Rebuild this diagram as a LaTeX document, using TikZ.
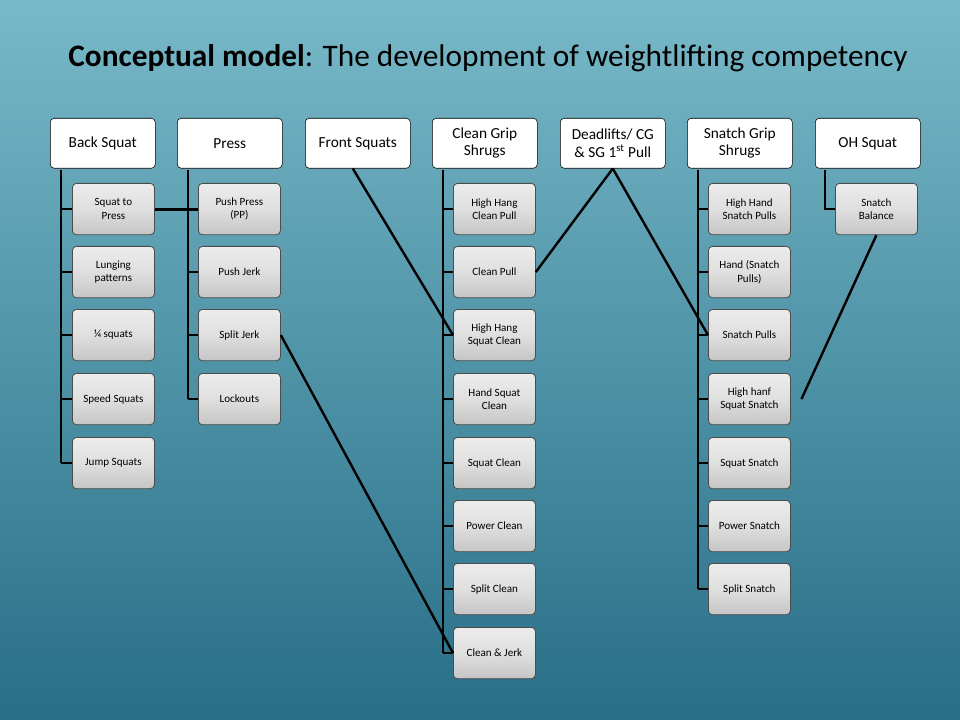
\documentclass[tikz,border=0pt]{standalone}
\usepackage{fontspec}
\setmainfont{Carlito}
\definecolor{bgtop}{RGB}{120,185,200}
\definecolor{bgbot}{RGB}{40,110,135}
\begin{document}
\begin{tikzpicture}[x=0.75pt,y=-0.75pt,
  top/.style={draw=black,fill=white,rounded corners=3pt,minimum width=78.75pt,minimum height=37.5pt,align=center,font=\fontsize{11.5}{13}\selectfont,anchor=north west,inner sep=1pt},
  sub/.style={draw=black!70,line width=0.6pt,top color=gray!15,bottom color=gray!45,middle color=gray!25,rounded corners=3pt,minimum width=61.5pt,minimum height=38.5pt,align=center,font=\fontsize{8.3}{10}\selectfont,anchor=north west,inner sep=1pt},
  tree/.style={line width=2.2pt,black},
  link/.style={line width=1.8pt,black}]
\useasboundingbox (0,0) rectangle (960,720);
\shade[top color=bgtop,bottom color=bgbot] (0,0) rectangle (960,720);
\node[font=\fontsize{23.5}{28}\selectfont,anchor=center] (title) at (488,58) {\textbf{Conceptual model}: The development of weightlifting competency};
% top boxes
\node[top] (bs) at (50,118) {Back Squat};
\node[top] (pr) at (177,118) {Press};
\node[top] (fs) at (305,118) {Front Squats};
\node[top] (cg) at (432,118) {Clean Grip\\Shrugs};
\node[top] (dl) at (560,118) {Deadlifts/ CG\\\& SG 1\textsuperscript{st} Pull};
\node[top] (sg) at (687,118) {Snatch Grip\\Shrugs};
\node[top] (oh) at (815,118) {OH Squat};
% tree lines
\draw[tree] (61,170) -- (61,463);
\foreach \y in {209,272,335,399,463} \draw[tree] (61,\y) -- (72,\y);
\draw[tree] (188,170) -- (188,399);
\foreach \y in {209,272,335,399} \draw[tree] (188,\y) -- (198,\y);
\draw[tree] (443,170) -- (443,653);
\foreach \y in {209,272,335,399,463,526,589,653} \draw[tree] (443,\y) -- (453,\y);
\draw[tree] (698,170) -- (698,589);
\foreach \y in {209,272,335,399,463,526,589} \draw[tree] (698,\y) -- (708,\y);
\draw[tree] (825,170) -- (825,209) -- (835,209);
% sub boxes
\node[sub] (b1) at (72,183) {Squat to\\Press};
\node[sub] (b2) at (72,246) {Lunging\\patterns};
\node[sub] (b3) at (72,309) {¼ squats};
\node[sub] (b4) at (72,373) {Speed Squats};
\node[sub] (b5) at (72,437) {Jump Squats};
\node[sub] (p1) at (198,183) {Push Press\\(PP)};
\node[sub] (p2) at (198,246) {Push Jerk};
\node[sub] (p3) at (198,309) {Split Jerk};
\node[sub] (p4) at (198,373) {Lockouts};
\node[sub] (c1) at (453,183) {High Hang\\Clean Pull};
\node[sub] (c2) at (453,246) {Clean Pull};
\node[sub] (c3) at (453,309) {High Hang\\Squat Clean};
\node[sub] (c4) at (453,373) {Hand Squat\\Clean};
\node[sub] (c5) at (453,437) {Squat Clean};
\node[sub] (c6) at (453,500) {Power Clean};
\node[sub] (c7) at (453,563) {Split Clean};
\node[sub] (c8) at (453,627) {Clean \& Jerk};
\node[sub] (s1) at (708,183) {High Hand\\Snatch Pulls};
\node[sub] (s2) at (708,246) {Hand (Snatch\\Pulls)};
\node[sub] (s3) at (708,309) {Snatch Pulls};
\node[sub] (s4) at (708,373) {High hanf\\Squat Snatch};
\node[sub] (s5) at (708,437) {Squat Snatch};
\node[sub] (s6) at (708,500) {Power Snatch};
\node[sub] (s7) at (708,563) {Split Snatch};
\node[sub] (o1) at (835,183) {Snatch\\Balance};
% links
\draw[tree] (b1.east) -- (p1.west);
\draw[link] (fs.south) ++(-5,0) coordinate (fsb) -- (c3.west);
\draw[link] (p3.east) -- (c8.west);
\draw[link] (dl.south) ++(0,0) coordinate (dlb) -- (c2.east);
\draw[link] (dlb) -- (s3.west);
\draw[link] (o1.south) -- ([xshift=8pt]s4.east);
\end{tikzpicture}
\end{document}
